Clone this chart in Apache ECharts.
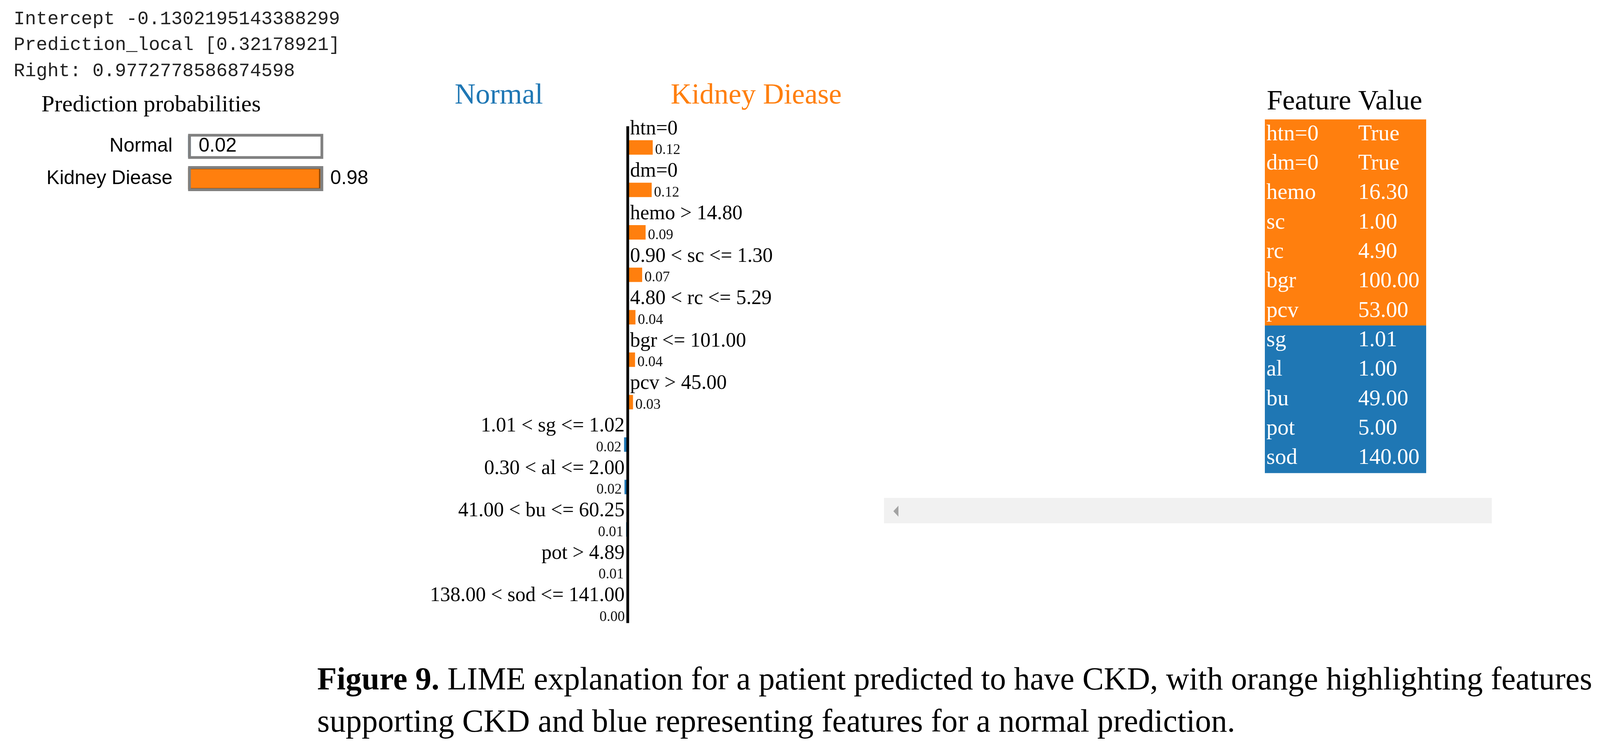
<!DOCTYPE html>
<html>
<head>
<meta charset="utf-8">
<script src="https://cdn.jsdelivr.net/npm/echarts@6/dist/echarts.min.js"></script>
<style>
html,body{margin:0;padding:0;background:#fff;}
#main{width:4112px;height:1919px;}
</style>
</head>
<body>
<div id="main"></div>
<script>
// ---------------- data ----------------
const introLines = [
  'Intercept -0.1302195143388299',
  'Prediction_local [0.32178921]',
  'Right: 0.9772778586874598'
];
const classNames = ['Normal', 'Kidney Diease'];
const classProbs = [0.02, 0.98];

const features = [
  'htn=0', 'dm=0', 'hemo > 14.80', '0.90 < sc <= 1.30', '4.80 < rc <= 5.29',
  'bgr <= 101.00', 'pcv > 45.00', '1.01 < sg <= 1.02', '0.30 < al <= 2.00',
  '41.00 < bu <= 60.25', 'pot > 4.89', '138.00 < sod <= 141.00'
];
const weights = [
  0.123, 0.118, 0.088, 0.071, 0.038, 0.036, 0.026,
  -0.018, -0.016, -0.008, -0.006, -0.001
];

const tableNames = ['htn=0', 'dm=0', 'hemo', 'sc', 'rc', 'bgr', 'pcv', 'sg', 'al', 'bu', 'pot', 'sod'];
const tableValues = ['True', 'True', '16.30', '1.00', '4.90', '100.00', '53.00', '1.01', '1.00', '49.00', '5.00', '140.00'];

const captionLines = [
  'LIME explanation for a patient predicted to have CKD, with orange highlighting features',
  'supporting CKD and blue representing features for a normal prediction.'
];

// ---------------- styles ----------------
const ORANGE = '#ff7f0e';
const BLUE = '#1f77b4';
const SERIF = '"Liberation Serif", "Times New Roman", serif';
const SANS = '"Liberation Sans", Arial, sans-serif';
const MONO = '"Liberation Mono", "DejaVu Sans Mono", monospace';
const MID = 0.3; // baseline -> middle offset factor

function barItem(params, api) {
  const w = api.value(0);
  const cat = api.value(1);
  const p0 = api.coord([0, cat]);
  const p1 = api.coord([w, cat]);
  const band = api.size([0, 1])[1];
  const bh = band * 0.34;
  const top = p0[1] - bh / 2;
  const bottom = p0[1] + bh / 2;
  const pos = w >= 0;
  const fs = 52, vfs = 37;
  const children = [
    {
      type: 'rect', z2: 1,
      shape: { x: Math.min(p0[0], p1[0]), y: top, width: Math.abs(p1[0] - p0[0]), height: bh },
      style: { fill: pos ? ORANGE : BLUE }
    },
    {
      type: 'text', z2: 2,
      style: {
        text: features[params.dataIndex],
        x: pos ? p0[0] + 6 : p0[0] - 8,
        y: top - 13 - MID * fs,
        textAlign: pos ? 'left' : 'right', textVerticalAlign: 'middle',
        font: fs + 'px ' + SERIF, fill: '#000'
      }
    },
    {
      type: 'text', z2: 2,
      style: {
        text: Math.abs(w).toFixed(2),
        x: pos ? p1[0] + 6 : p1[0] - 7,
        y: bottom - MID * vfs,
        textAlign: pos ? 'left' : 'right', textVerticalAlign: 'middle',
        font: vfs + 'px ' + SERIF, fill: '#111'
      }
    }
  ];
  if (params.dataIndex === 0) {
    const last = api.coord([0, features.length - 1]);
    children.push({
      type: 'line', z2: 100,
      shape: { x1: p0[0], y1: p0[1] - band / 2, x2: p0[0], y2: last[1] + bh / 2 + 4 },
      style: { stroke: '#000', lineWidth: 7 }
    });
  }
  return { type: 'group', children: children };
}

function tableItem(params, api) {
  const i = params.dataIndex;
  const cat = api.value(1);
  const a = api.coord([0, cat]);
  const b = api.coord([1, cat]);
  const band = api.size([0, 1])[1];
  const top = a[1] - band / 2;
  const fs = 57;
  const fill = weights[i] >= 0 ? ORANGE : BLUE;
  return {
    type: 'group',
    children: [
      { type: 'rect', shape: { x: a[0], y: top - 0.5, width: b[0] - a[0], height: band + 1 }, style: { fill: fill } },
      { type: 'text', style: { text: tableNames[i], x: a[0] + 4, y: a[1], textAlign: 'left', textVerticalAlign: 'middle', font: fs + 'px ' + SERIF, fill: '#fff' } },
      { type: 'text', style: { text: tableValues[i], x: a[0] + 239, y: a[1], textAlign: 'left', textVerticalAlign: 'middle', font: fs + 'px ' + SERIF, fill: '#fff' } }
    ]
  };
}

const probColors = [BLUE, ORANGE];
const probBorders = ['#17507c', '#8c4808'];
const probLabelDist = [20, 25];

const option = {
  backgroundColor: '#fff',
  animation: false,
  grid: [
    { left: 1451, top: 323, width: 312, height: 1303.2 },
    { left: 481.5, top: 333.25, width: 346, height: 165 },
    { left: 3238, top: 306, width: 413, height: 904 }
  ],
  xAxis: [
    { gridIndex: 0, type: 'value', min: -0.3, max: 0.3, show: false },
    { gridIndex: 1, type: 'value', min: 0, max: 1, show: false },
    { gridIndex: 2, type: 'value', min: 0, max: 1, show: false }
  ],
  yAxis: [
    { gridIndex: 0, type: 'category', data: features, inverse: true, show: false },
    {
      gridIndex: 1, type: 'category', data: classNames, inverse: true,
      axisLine: { show: false }, axisTick: { show: false }, splitLine: { show: false },
      axisLabel: { margin: 40, fontSize: 50, fontFamily: 'Liberation Sans', color: '#000' }
    },
    { gridIndex: 1, type: 'category', data: classNames, inverse: true, show: false },
    { gridIndex: 2, type: 'category', data: tableNames, inverse: true, show: false }
  ],
  series: [
    {
      type: 'custom', xAxisIndex: 0, yAxisIndex: 0,
      renderItem: barItem,
      encode: { x: 0, y: 1 },
      data: features.map((f, i) => [weights[i], f])
    },
    {
      type: 'bar', xAxisIndex: 1, yAxisIndex: 1, barWidth: 56, z: 2,
      data: classProbs.map((v, i) => ({
        value: v,
        itemStyle: { color: probColors[i], borderColor: probBorders[i], borderWidth: 4 },
        label: { distance: probLabelDist[i] }
      })),
      label: {
        show: true, position: 'right', fontSize: 50, fontFamily: 'Liberation Sans', color: '#000',
        formatter: p => p.value.toFixed(2)
      }
    },
    {
      type: 'bar', xAxisIndex: 1, yAxisIndex: 2, barWidth: 64, z: 3, silent: true,
      data: classNames.map(() => 1),
      itemStyle: { color: 'rgba(0,0,0,0)', borderColor: '#808080', borderWidth: 7 }
    },
    {
      type: 'custom', xAxisIndex: 2, yAxisIndex: 3,
      renderItem: tableItem,
      encode: { x: 0, y: 1 },
      data: tableNames.map((n, i) => [1, n])
    }
  ],
  graphic: [
    ...introLines.map((t, i) => ({
      type: 'text',
      style: { text: t, x: 35, y: [63, 129, 196][i] - 0.28 * 48, textVerticalAlign: 'middle', font: '48px ' + MONO, fill: '#222' }
    })),
    { type: 'text', style: { text: 'Prediction probabilities', x: 106, y: 287 - MID * 60, textVerticalAlign: 'middle', font: '60px ' + SERIF, fill: '#000' } },
    { type: 'text', style: { text: classNames[0], x: 1164, y: 268 - MID * 74, textVerticalAlign: 'middle', font: '74px ' + SERIF, fill: BLUE } },
    { type: 'text', style: { text: classNames[1], x: 1717, y: 268 - MID * 74, textVerticalAlign: 'middle', font: '74px ' + SERIF, fill: ORANGE } },
    { type: 'text', style: { text: 'Feature', x: 3243, y: 283 - MID * 72, textVerticalAlign: 'middle', font: '72px ' + SERIF, fill: '#000' } },
    { type: 'text', style: { text: 'Value', x: 3477, y: 283 - MID * 72, textVerticalAlign: 'middle', font: '72px ' + SERIF, fill: '#000' } },
    { type: 'rect', shape: { x: 2263, y: 1274, width: 1556, height: 65 }, style: { fill: '#f1f1f1' } },
    { type: 'polygon', shape: { points: [[2300, 1294], [2300, 1322], [2287, 1308]] }, style: { fill: '#a3a3a3' } },
    {
      type: 'text',
      style: {
        text: '{b|Figure 9.} ' + captionLines[0], x: 812, y: 1767 - MID * 82, textVerticalAlign: 'middle',
        font: '82px ' + SERIF, fill: '#000',
        rich: { b: { fontWeight: 'bold', fontSize: 82, fontFamily: 'Liberation Serif', fill: '#000' } }
      }
    },
    { type: 'text', style: { text: captionLines[1], x: 812, y: 1875 - MID * 82, textVerticalAlign: 'middle', font: '82px ' + SERIF, fill: '#000' } }
  ]
};

const chart = echarts.init(document.getElementById('main'), null, { renderer: 'canvas', width: 4112, height: 1919 });
chart.setOption(option);
</script>
</body>
</html>
